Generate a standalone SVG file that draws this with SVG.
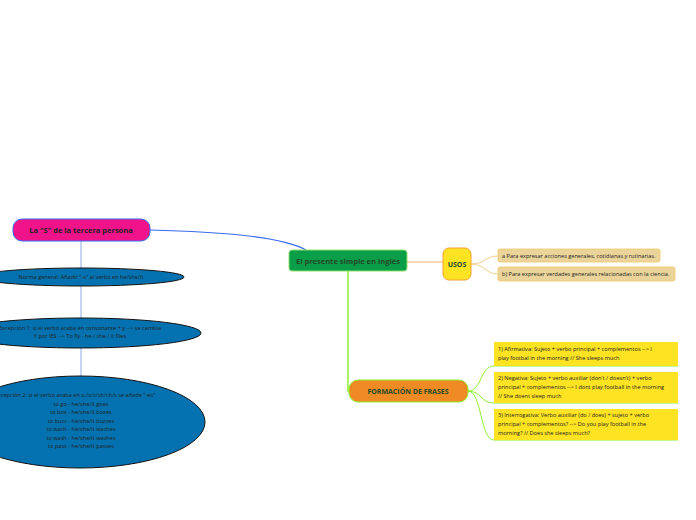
<svg xmlns="http://www.w3.org/2000/svg" width="696" height="520" viewBox="0 0 696 520">
<style>
text{font-family:"Open Sans","Noto Sans",sans-serif;fill:#222}
.ell{fill:#0472b0;stroke:#111;stroke-width:1}
.sm{font-size:5.6px}
.it{fill:#fde322}
.us{fill:#ebd49a;stroke:#f0c86a;stroke-width:0.8}
</style>
<rect width="696" height="520" fill="#fff"/>
<g id="connectors" fill="none">
<path d="M150,230 C220,232 280,236 306,250" stroke="#3a6bf0" stroke-width="1.2"/>
<path d="M81,241 V377" stroke="#8fa8e8" stroke-width="1"/>
<path d="M407,262 H443" stroke="#f5b36b" stroke-width="1.2"/>
<path d="M471,264 C485,264 485,256 498,256 M471,264 C485,264 485,274 498,274" stroke="#f7cf8a" stroke-width="1"/>
<path d="M348,271 V391 H350" stroke="#8ef02e" stroke-width="1.5"/>
<path d="M468,391 C482,391 480,366 494,366 H678 M468,391 C482,391 480,403 494,403 H678 M468,391 C482,391 480,440 494,440 H678" stroke="#8ef02e" stroke-width="1"/>
</g>
<g id="central"><rect x="289" y="250" width="118" height="21" rx="3" fill="#0a9e48" stroke="#8ee06a"/><text x="348" y="264" text-anchor="middle" font-size="7.5" font-weight="bold" style="fill:#224a2a">El presente simple en Inglés</text></g>
<g id="s"><rect x="13" y="219" width="137" height="22" rx="9" fill="#f0138a" stroke="#3a6bf0"/><text x="81" y="233" text-anchor="middle" font-size="7.5" font-weight="bold">La "S" de la tercera persona</text></g>
<g id="e1"><ellipse class="ell" cx="81" cy="277" rx="103" ry="9"/><text class="sm" x="81" y="279" text-anchor="middle">Norma general: Añadir "-s" al verbo en he/she/it</text></g>
<g id="e2"><ellipse class="ell" cx="80" cy="333" rx="121" ry="15"/><text class="sm" x="80" y="330" text-anchor="middle">Excepción 1: si el verbo acaba en consonante + y --&gt; se cambia</text><text class="sm" x="80" y="338" text-anchor="middle">Y por IES --&gt; To fly - he / she / it flies</text></g>
<g id="e3"><ellipse class="ell" cx="80" cy="422" rx="125" ry="46"/>
<text class="sm" text-anchor="middle"><tspan x="75" y="397">Excepción 2: si el verbo acaba en o,/x/z/sh/ch/s se añade "-es"</tspan><tspan x="81" y="405.5">to go - he/she/it goes</tspan><tspan x="81" y="414">to box - he/she/it boxes</tspan><tspan x="81" y="422.5">to buzz - he/she/it buzzes</tspan><tspan x="81" y="431">to wach - he/she/it waches</tspan><tspan x="81" y="439.5">to wash - he/she/it washes</tspan><tspan x="81" y="448">to pass - he/she/it passes</tspan></text></g>
<g id="usos"><rect x="443" y="248" width="28" height="32" rx="6" fill="#fde322" stroke="#f5a030"/><text x="457" y="267" text-anchor="middle" font-size="7" font-weight="bold" style="fill:#224a2a">USOS</text></g>
<g id="u1"><rect class="us" x="498" y="249" width="162" height="13" rx="2"/><text class="sm" x="502" y="257.5">a Para expresar acciones generales, cotidianas y rutinarias.</text></g>
<g id="u2"><rect class="us" x="498" y="267" width="177" height="14" rx="2"/><text class="sm" x="502" y="276">b) Para expresar verdades generales relacionadas con la ciencia.</text></g>
<g id="form"><rect x="349" y="380" width="119" height="22" rx="9" fill="#f08a24" stroke="#8ef02e"/><text x="408" y="394" text-anchor="middle" font-size="7" font-weight="bold" style="fill:#224a2a">FORMACIÓN DE FRASES</text></g>
<g id="f1"><rect class="it" x="494" y="342" width="184" height="24"/><text class="sm"><tspan x="498" y="351">1) Afirmativa: Sujeto + verbo principal + complementos --&gt; I</tspan><tspan x="498" y="360">play footbal in the morning // She sleeps much</tspan></text></g>
<g id="f2"><rect class="it" x="494" y="372" width="184" height="31"/><text class="sm"><tspan x="498" y="380">2) Negativa: Sujeto + verbo auxiliar (don't / doesn't) + verbo</tspan><tspan x="498" y="389">principal + complementos --&gt; I dont play football in the morning</tspan><tspan x="498" y="398">// She doent sleep much</tspan></text></g>
<g id="f3"><rect class="it" x="494" y="409" width="184" height="31"/><text class="sm"><tspan x="498" y="417">3) Interrogativa: Verbo auxiliar (do / does) + sujeto + verbo</tspan><tspan x="498" y="426">principal + complementos? --&gt; Do you play football in the</tspan><tspan x="498" y="435">morning? // Does she sleeps much?</tspan></text></g>
</svg>
